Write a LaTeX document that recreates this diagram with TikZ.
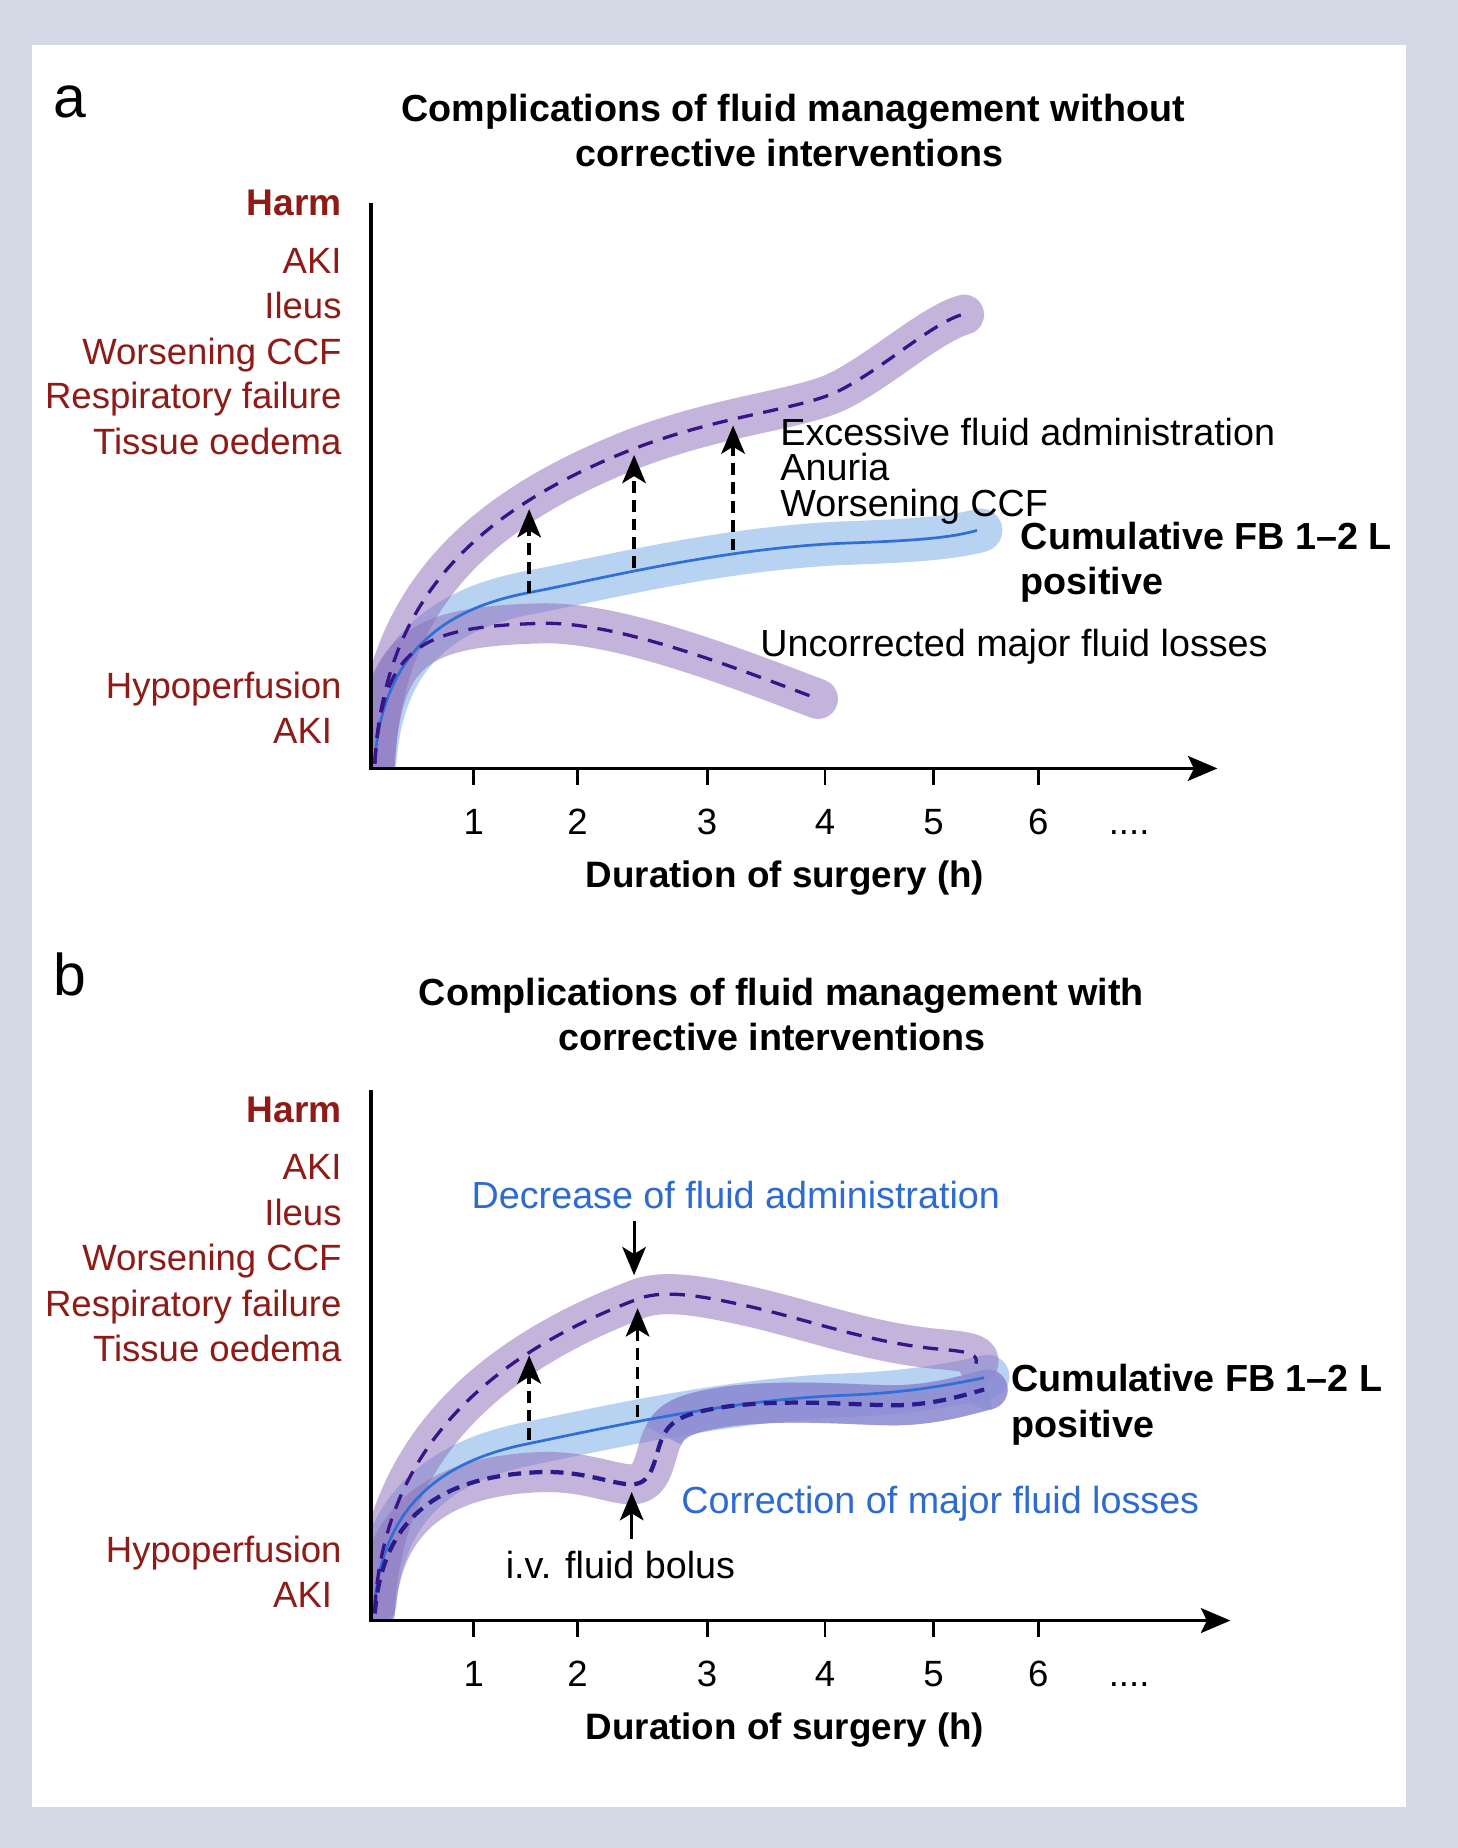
\documentclass[tikz,border=0pt]{standalone}
\usepackage{fontspec}
\setmainfont{Liberation Sans}
\usetikzlibrary{arrows.meta}
\definecolor{bgcol}{HTML}{D3DAE6}
\definecolor{harmred}{HTML}{8E1B16}
\definecolor{txtblue}{HTML}{2D6BD2}
\definecolor{lineblue}{HTML}{2F6FD6}
\definecolor{bandblue}{HTML}{B8D2F1}
\definecolor{bandpurple}{RGB}{142,112,188}
\definecolor{dashpurple}{HTML}{3A1386}
\definecolor{dashnavy}{HTML}{2A1A8C}
\definecolor{periwinkle}{RGB}{140,143,214}
\tikzset{
  lbl/.style={font=\fontsize{32}{38}\selectfont, inner sep=0pt},
  harm/.style={font=\fontsize{31}{37}\selectfont, inner sep=0pt, text=harmred, anchor=base east},
  harmb/.style={harm, font=\bfseries\fontsize{31.5}{37}\selectfont},
  bold/.style={lbl, font=\bfseries\fontsize{32}{38}\selectfont},
  ttl/.style={font=\bfseries\fontsize{32}{38}\selectfont, inner sep=0pt, anchor=base},
  xttl/.style={font=\bfseries\fontsize{31.2}{38}\selectfont, inner sep=0pt, anchor=base},
  tlbl/.style={font=\fontsize{31}{37}\selectfont, inner sep=0pt, anchor=base},
  panel/.style={font=\fontsize{50}{60}\selectfont, inner sep=0pt, anchor=base west},
  axis/.style={line width=3pt, -{Stealth[length=25pt,width=21pt,inset=5pt]}},
  yaxis/.style={line width=3pt},
  tick/.style={line width=2.5pt},
  bluband/.style={draw=bandblue, line width=37pt, line cap=round, line join=round},
  purband/.style={draw=bandpurple, draw opacity=0.52, line width=34pt, line cap=round, line join=round},
  overband/.style={draw=periwinkle, draw opacity=0.75, line width=34pt, line cap=butt, line join=round},
  blueline/.style={draw=lineblue, line width=2.3pt},
  purdash/.style={draw=dashpurple, line width=2.8pt, dash pattern=on 13pt off 9pt},
  navydash/.style={draw=dashnavy, line width=3.6pt, dash pattern=on 11pt off 7pt},
  darr/.style={line width=3pt, dash pattern=on 10pt off 6pt, -{Stealth[length=24pt,width=20pt,inset=6pt]}},
  sarr/.style={line width=2.6pt, -{Stealth[length=24pt,width=20pt,inset=6pt]}},
}
\begin{document}
\begin{tikzpicture}[x=1pt,y=-1pt]
\useasboundingbox (0,0) rectangle (1237,1568);
\fill[bgcol] (0,0) rectangle (1237,1568);
\fill[white] (27,38) rectangle (1193,1533);

% ================= PANEL A =================
\node[panel] (pa) at (45,100) {a};
\node[ttl] (ta1) at (673,103) {Complications of fluid management without};
\node[ttl] (ta2) at (670,141) {corrective interventions};

\node[harmb] (ha0) at (290,183) {Harm};
\node[harm] (ha1) at (290,232) {AKI};
\node[harm] (ha2) at (290,270) {Ileus};
\node[harm] (ha3) at (290,309) {Worsening CCF};
\node[harm] (ha4) at (290,347) {Respiratory failure};
\node[harm] (ha5) at (290,386) {Tissue oedema};
\node[harm] (ha6) at (290,593) {Hypoperfusion};
\node[harm] (ha7) at (282,631) {AKI};

% bands
\begin{scope}
\clip (316,150) rectangle (900,650);
\draw[bluband] (318,645) .. controls (325,555) and (375,517) .. (448,503) .. controls (515,490) and (610,466) .. (713,461) .. controls (770,459) and (805,457) .. (832,450);
\draw[purband] (318,648) .. controls (325,520) and (390,440) .. (532,383) .. controls (610,352) and (680,348) .. (713,331) .. controls (750,312) and (790,275) .. (818,267);
\draw[purband] (318,648) .. controls (324,550) and (355,532) .. (456,529) .. controls (520,526) and (620,565) .. (694,593);
\end{scope}
% lines
\draw[blueline] (318,645) .. controls (325,555) and (375,517) .. (448,503) .. controls (515,490) and (610,466) .. (713,461) .. controls (770,459) and (805,457) .. (829,450);
\draw[purdash] (318,648) .. controls (325,520) and (390,440) .. (532,383) .. controls (610,352) and (680,348) .. (713,331) .. controls (750,312) and (790,275) .. (816,267);
\draw[purdash] (318,648) .. controls (324,550) and (355,532) .. (456,529) .. controls (520,526) and (620,565) .. (694,593);

% axes
\coordinate (a0) at (315,652);
\coordinate (ay) at (315,172);
\coordinate (ax) at (1033,652);
\draw[yaxis] (ay) -- (a0);
\draw[axis] ([xshift=-1.5pt]a0) -- (ax);
\foreach \x/\l [count=\i] in {402/1,490/2,600/3,700/4,792/5,881/6}{
  \coordinate (ta\i) at (\x,652);
  \draw[tick] (ta\i) -- ++(0,14);
  \node[tlbl] (la\i) at (\x,708) {\l};
}
\node[tlbl] (ladots) at (958,708) {....};
\node[xttl] (xa) at (666,753) {Duration of surgery (h)};

% arrows
\coordinate (a1s) at (449,503); \coordinate (a1e) at (449,432);
\coordinate (a2s) at (538,482); \coordinate (a2e) at (538,386);
\coordinate (a3s) at (622,467); \coordinate (a3e) at (622,361);
\draw[darr] (a1s) -- (a1e);
\draw[darr] (a2s) -- (a2e);
\draw[darr] (a3s) -- (a3e);

\node[lbl, anchor=base west] (ex1) at (662,378) {Excessive fluid administration};
\node[lbl, anchor=base west] (ex2) at (662,408) {Anuria};
\node[lbl, anchor=base west] (ex3) at (662,438) {Worsening CCF};
\node[bold, anchor=base west] (cfa1) at (866,466) {Cumulative FB 1–2 L};
\node[bold, anchor=base west] (cfa2) at (866,504) {positive};
\node[lbl, anchor=base west] (unc) at (645,557) {Uncorrected major fluid losses};

% ================= PANEL B =================
\node[panel] (pb) at (45,845) {b};
\node[ttl] (tb1) at (663,853) {Complications of fluid management with};
\node[ttl] (tb2) at (655,891) {corrective interventions};

\node[harmb] (hb0) at (290,952) {Harm};
\node[harm] (hb1) at (290,1001) {AKI};
\node[harm] (hb2) at (290,1040) {Ileus};
\node[harm] (hb3) at (290,1078) {Worsening CCF};
\node[harm] (hb4) at (290,1117) {Respiratory failure};
\node[harm] (hb5) at (290,1155) {Tissue oedema};
\node[harm] (hb6) at (290,1326) {Hypoperfusion};
\node[harm] (hb7) at (282,1364) {AKI};

% bands
\begin{scope}
\clip (316,950) rectangle (900,1373);
\draw[bluband] (318,1360) .. controls (325,1280) and (372,1240) .. (448,1225) .. controls (520,1210) and (620,1188) .. (713,1184) .. controls (770,1182) and (810,1175) .. (838,1168);
\draw[purband] (318,1366) .. controls (324,1250) and (390,1160) .. (539,1103) .. controls (560,1094) and (590,1098) .. (638,1109) .. controls (690,1121) and (740,1140) .. (800,1145) .. controls (825,1147) and (832,1150) .. (830,1157);
\draw[purband] (318,1369) .. controls (324,1290) and (370,1252) .. (460,1249) .. controls (500,1248) and (525,1262) .. (540,1259) .. controls (556,1256) and (556,1230) .. (563,1218) .. controls (570,1203) and (585,1198) .. (620,1193) .. controls (680,1186) and (740,1194) .. (770,1192) .. controls (800,1190) and (822,1183) .. (838,1179);
\draw[overband] (563,1218) .. controls (570,1203) and (585,1198) .. (620,1193) .. controls (680,1186) and (740,1194) .. (770,1192) .. controls (800,1190) and (822,1183) .. (838,1179);
\fill[periwinkle, fill opacity=0.75] (838,1179) circle (17);
\end{scope}
% lines
\draw[blueline] (318,1360) .. controls (325,1280) and (372,1240) .. (448,1225) .. controls (520,1210) and (620,1188) .. (713,1184) .. controls (770,1182) and (805,1175) .. (835,1169);
\draw[purdash] (318,1366) .. controls (324,1250) and (390,1160) .. (539,1103) .. controls (560,1094) and (590,1098) .. (638,1109) .. controls (690,1121) and (740,1140) .. (800,1145) .. controls (825,1147) and (830,1150) .. (828,1157);
\draw[navydash] (318,1369) .. controls (324,1290) and (370,1252) .. (460,1249) .. controls (500,1248) and (525,1262) .. (540,1259) .. controls (556,1256) and (556,1230) .. (563,1218) .. controls (570,1203) and (585,1198) .. (620,1193) .. controls (680,1186) and (740,1194) .. (770,1192) .. controls (800,1190) and (820,1183) .. (835,1179);

% axes
\coordinate (b0) at (315,1375);
\coordinate (by) at (315,925);
\coordinate (bx) at (1044,1375);
\draw[yaxis] (by) -- (b0);
\draw[axis] ([xshift=-1.5pt]b0) -- (bx);
\foreach \x/\l [count=\i] in {402/1,490/2,600/3,700/4,792/5,881/6}{
  \coordinate (tb\i) at (\x,1375);
  \draw[tick] (tb\i) -- ++(0,14);
  \node[tlbl] (lb\i) at (\x,1431) {\l};
}
\node[tlbl] (lbdots) at (958,1431) {....};
\node[xttl] (xb) at (666,1476) {Duration of surgery (h)};

% arrows
\coordinate (b1s) at (449,1222); \coordinate (b1e) at (449,1150);
\coordinate (b2s) at (541,1202); \coordinate (b2e) at (541,1110);
\coordinate (b3s) at (538,1036); \coordinate (b3e) at (538,1082);
\coordinate (b4s) at (536,1306); \coordinate (b4e) at (536,1266);
\draw[darr] (b1s) -- (b1e);
\draw[darr] (b2s) -- (b2e);
\draw[sarr] (b3s) -- (b3e);
\draw[sarr] (b4s) -- (b4e);

\node[lbl, anchor=base west, text=txtblue] (dec) at (400,1025) {Decrease of fluid administration};
\node[bold, anchor=base west] (cfb1) at (858,1181) {Cumulative FB 1–2 L};
\node[bold, anchor=base west] (cfb2) at (858,1220) {positive};
\node[lbl, anchor=base west, text=txtblue] (cor) at (578,1284) {Correction of major fluid losses};
\node[lbl, anchor=base west] (ivb) at (429,1339) {i.v. fluid bolus};
\end{tikzpicture}
\end{document}
